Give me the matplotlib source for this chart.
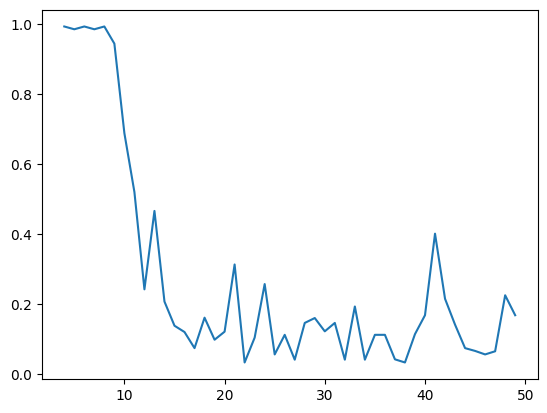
import matplotlib
matplotlib.use("Agg")
import matplotlib.pyplot as plt

# x values: 4 .. 49
xs = list(range(4, 50))
ys = [0.994, 0.986, 0.994, 0.986, 0.994, 0.945, 0.689, 0.521, 0.243, 0.467,
      0.208, 0.139, 0.121, 0.075, 0.162, 0.099, 0.122, 0.314, 0.034, 0.105,
      0.258, 0.057, 0.113, 0.042, 0.147, 0.161, 0.123, 0.147, 0.042, 0.194,
      0.042, 0.113, 0.113, 0.043, 0.034, 0.115, 0.169, 0.402, 0.216, 0.142,
      0.075, 0.067, 0.057, 0.066, 0.226, 0.169]

fig, ax = plt.subplots(figsize=(6.4, 4.8), dpi=100)
ax.plot(xs, ys)

plt.savefig("out.png", bbox_inches="tight")
